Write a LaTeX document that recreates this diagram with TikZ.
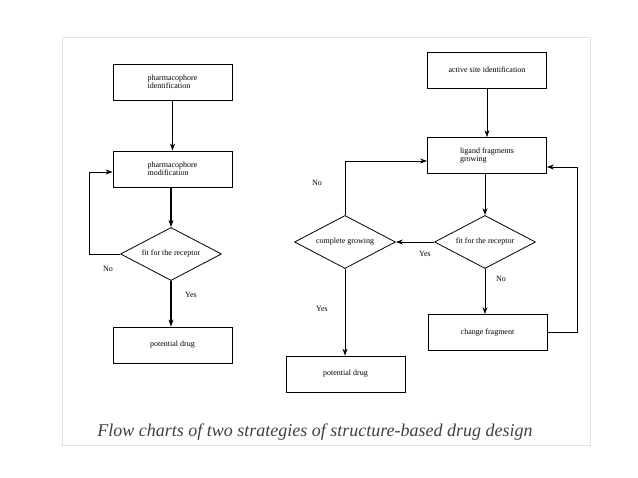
\documentclass[tikz,border=0pt]{standalone}
\usepackage{fontspec}
\setmainfont{Liberation Serif}
\usetikzlibrary{shapes.geometric,arrows.meta}
\begin{document}
\begin{tikzpicture}[x=1pt,y=-1pt,
  box/.style={draw,thick,minimum width=119pt,minimum height=36pt,font=\fontsize{8}{8}\selectfont,align=left},
  dia/.style={draw,thick,diamond,aspect=1.9,minimum width=101pt,minimum height=53pt,inner sep=0pt,font=\fontsize{8}{8}\selectfont},
  lab/.style={font=\fontsize{8}{8}\selectfont},
  thk/.style={line width=1.4pt,-{Stealth[length=7pt,width=5pt]}},
  thn/.style={thick,-{Stealth[length=7pt,width=5pt]}}]
\useasboundingbox (0,0) rectangle (638,478);
\draw[black!12] (62,37) rectangle (590,445);
% left
\node[box] (p1) at (172.5,82) {pharmacophore\\identification};
\node[box] (p2) at (172.5,169) {pharmacophore\\modification};
\node[dia] (f1) at (171,254) {fit for the receptor};
\node[box] (d1) at (172.5,345) {potential drug};
\draw[thk] (p1) -- (p2);
\draw[thk] (p2.south -| f1.north) -- (f1.north);
\draw[thk] (f1.south) -- (f1.south |- d1.north);
\coordinate (c1) at (89,254);
\coordinate (c2) at (89,172);
\draw[thn] (f1.west) -- (c1) -- (c2) -- (p2.west |- c2);
\node[lab] (n1) at (108,269) {No};
\node[lab] (y1) at (191,295) {Yes};
% right
\node[box] (a) at (487,70) {active site identification};
\node[box] (l) at (487,155.5) {ligand fragments\\growing};
\node[dia] (f2) at (485,242) {fit for the receptor};
\node[dia] (cg) at (345,242) {complete growing};
\node[box] (ch) at (487.5,332.5) {change fragment};
\node[box] (d2) at (345.5,374) {potential drug};
\draw[thn] (a) -- (l);
\draw[thn] (l.south -| f2.north) -- (f2.north);
\draw[thn] (f2.west) -- (cg.east);
\draw[thn] (f2.south) -- (f2.south |- ch.north);
\draw[thn] (cg.south) -- (cg.south |- d2.north);
\coordinate (c3) at (345,161);
\draw[thn] (cg.north) -- (c3) -- (l.west |- c3);
\coordinate (c4) at (577,332);
\coordinate (c5) at (577,167);
\draw[thn] (ch.east |- c4) -- (c4) -- (c5) -- (l.east |- c5);
\node[lab] (n2) at (317,183) {No};
\node[lab] (y2) at (425,254) {Yes};
\node[lab] (n3) at (501,279) {No};
\node[lab] (y3) at (322,309) {Yes};
\node[font=\fontsize{18}{18}\selectfont\itshape,text=black!75] (cap) at (315,432) {Flow charts of two strategies of structure-based drug design};
\end{tikzpicture}
\end{document}
